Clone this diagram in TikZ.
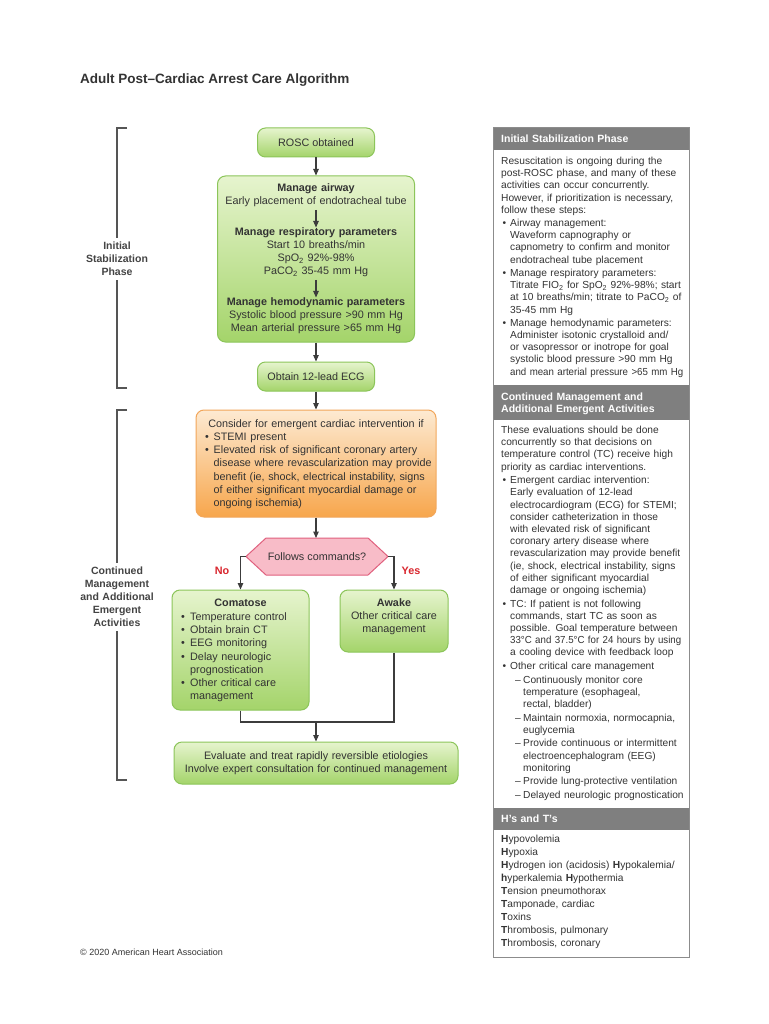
\documentclass[tikz,border=0pt]{standalone}
\usepackage{fontspec}
\setmainfont{Liberation Sans}
\usetikzlibrary{arrows.meta,calc}
\definecolor{txt}{HTML}{333333}
\definecolor{linec}{HTML}{3C3C3C}
\definecolor{gtop}{HTML}{E6F4CE}
\definecolor{gbot}{HTML}{A4D46A}
\definecolor{gborder}{HTML}{8CC55A}
\definecolor{otop}{HTML}{FDEAD2}
\definecolor{obot}{HTML}{F7A64C}
\definecolor{oborder}{HTML}{F2A65A}
\definecolor{hexfill}{HTML}{F8BCC8}
\definecolor{hexborder}{HTML}{E0607E}
\definecolor{redlab}{HTML}{D9262E}
\definecolor{hdrgray}{HTML}{7F7F7F}
\definecolor{panelborder}{HTML}{8C8C8C}
\definecolor{brack}{HTML}{555555}
\newcommand\pbul{\hspace*{1.5pt}\makebox[7.5pt][l]{•}}
\newcommand\pind{\hspace*{9pt}}
\newcommand\pdash{\hspace*{14pt}\makebox[8pt][l]{–}}
\newcommand\pdind{\hspace*{22pt}}
\newcommand\fbul{\makebox[8.5pt][l]{•}}
\newcommand\find{\hspace*{8.5pt}}
\newcommand\cbul{\makebox[9pt][l]{•}}
\newcommand\cind{\hspace*{9pt}}
\newcommand\narrowline[1]{{\addfontfeature{FakeStretch=0.95}#1}}
\begin{document}
\begin{tikzpicture}[x=1pt,y=-1pt,
  gbox/.style={draw=gborder, line width=1pt, rounded corners=8pt, top color=gtop, bottom color=gbot, inner sep=0pt},
  obox/.style={draw=oborder, line width=1pt, rounded corners=8pt, top color=otop, bottom color=obot, inner sep=0pt},
  ft/.style={font=\fontsize{10.8}{13}\selectfont, text=txt, inner sep=0pt},
  ftc/.style={ft, align=center, text width=#1, anchor=base},
  ftl/.style={ft, align=left, text width=#1, anchor=base west},
  arr/.style={draw=linec, line width=1.1pt, -{Triangle[length=6.5pt,width=5.5pt]}},
  conn/.style={draw=linec, line width=1.1pt},
  pt/.style={font=\fontsize{10.2}{12.2}\selectfont, text=txt, inner sep=0pt, align=left, text width=200pt, anchor=base west},
  hdr/.style={font=\fontsize{10.5}{12.5}\selectfont\bfseries, text=white, inner sep=0pt, align=left, text width=190pt, anchor=base west},
  brlab/.style={font=\fontsize{10.5}{13}\selectfont\bfseries, text=brack!80!black, inner sep=0pt, align=center, text width=90pt, anchor=base},
  brline/.style={draw=brack, line width=1.2pt},
  yn/.style={font=\fontsize{10.8}{13}\selectfont\bfseries, text=redlab, inner sep=0pt, anchor=base}
]
\useasboundingbox (0,0) rectangle (768,1024);
\fill[white] (0,0) rectangle (768,1024);

% title and footer
\node[font=\fontsize{13.5}{16}\selectfont\bfseries, text=txt, inner sep=0pt, anchor=base west] (title) at (80,84) {Adult Post–Cardiac Arrest Care Algorithm};
\node[font=\fontsize{9}{11}\selectfont, text=txt, inner sep=0pt, anchor=base west] (footer) at (80,955) {© 2020 American Heart Association};

% brackets
\node[brlab] (lab1) at (117,249.5) {Initial\\Stabilization\\Phase};
\coordinate (b1a) at (127,128);
\coordinate (b1b) at (117,128);
\coordinate (b1c) at (117,388);
\coordinate (b1d) at (127,388);
\draw[brline] (b1a) -- (b1b) -- ([yshift=4pt]lab1.north);
\draw[brline] (b1d) -- (b1c) -- ([yshift=-4pt]lab1.south);
\node[brlab] (lab2) at (117,574.5) {Continued\\Management\\and Additional\\Emergent\\Activities};
\coordinate (b2a) at (127,410);
\coordinate (b2b) at (117,410);
\coordinate (b2c) at (117,780);
\coordinate (b2d) at (127,780);
\draw[brline] (b2a) -- (b2b) -- ([yshift=4pt]lab2.north);
\draw[brline] (b2d) -- (b2c) -- ([yshift=-4pt]lab2.south);

% flowchart boxes
\node[gbox, minimum width=117pt, minimum height=29pt] (rosc) at (316,142.5) {};
\node[ft] (roscT) at (rosc.center) {ROSC obtained};
\node[gbox, minimum width=197pt, minimum height=166pt] (stab) at (316,259) {};
\node[ftc=190pt] (s1) at (316,191.5) {\textbf{Manage airway}\\Early placement of endotracheal tube};
\node[ftc=190pt] (s2) at (316,235.5) {\textbf{Manage respiratory parameters}\\Start 10 breaths/min\\SpO\textsubscript{2} 92\%-98\%\\PaCO\textsubscript{2} 35-45 mm Hg};
\node[ftc=190pt] (s3) at (316,305.5) {\textbf{Manage hemodynamic parameters}\\Systolic blood pressure >90 mm Hg\\Mean arterial pressure >65 mm Hg};
\node[gbox, minimum width=117pt, minimum height=29pt] (ecg) at (316,376.5) {};
\node[ft] (ecgT) at (ecg.center) {Obtain 12-lead ECG};

\node[obox, minimum width=240pt, minimum height=107pt] (cath) at (316,463.5) {};
\node[ftc=236pt] (c1) at (316,427.5) {Consider for emergent cardiac intervention if};
\node[ftl=230pt, font=\fontsize{10.8}{13.2}\selectfont] (c2) at (205,440.5) {\fbul STEMI present\\\fbul Elevated risk of significant coronary artery\\\find disease where revascularization may provide\\\find benefit (ie, shock, electrical instability, signs\\\find of either significant myocardial damage or\\\find ongoing ischemia)};

% hexagon decision
\coordinate (hexL) at (246,556.5);
\coordinate (hexR) at (388,556.5);
\coordinate (hexT) at (316,538);
\draw[draw=hexborder, line width=1pt, fill=hexfill] (hexL) -- (266,538) -- (368,538) -- (hexR) -- (368,575) -- (266,575) -- cycle;
\node[ft] (hexT2) at (317,556.5) {Follows commands?};

\node[gbox, minimum width=137pt, minimum height=120pt] (coma) at (240.5,650) {};
\node[ftc=130pt] (cm1) at (240.5,606.5) {\textbf{Comatose}};
\node[ftl=125pt, font=\fontsize{10.8}{13.2}\selectfont] (cm2) at (181,620.5) {\cbul Temperature control\\\cbul Obtain brain CT\\\cbul EEG monitoring\\\cbul Delay neurologic\\\cind prognostication\\\cbul Other critical care\\\cind management};

\node[gbox, minimum width=108pt, minimum height=62pt] (awake) at (394,621) {};
\node[ftc=104pt] (aw1) at (394,606.5) {\textbf{Awake}\\Other critical care\\management};

\node[gbox, minimum width=284pt, minimum height=42pt] (final) at (316,763) {};
\node[ftc=280pt] (fin1) at (316,759.5) {Evaluate and treat rapidly reversible etiologies\\Involve expert consultation for continued management};

% connectors
\draw[arr] (rosc.south) -- (stab.north);
\draw[arr, shorten <=3pt] (s1.south) -- (s2.north);
\draw[arr, shorten <=3pt] (s2.south) -- (s3.north);
\draw[arr] (stab.south) -- (ecg.north);
\draw[arr] (ecg.south) -- (cath.north);
\draw[arr] (cath.south) -- (hexT);
\draw[arr] (hexL) -| (coma.north);
\draw[arr] (hexR) -| (awake.north);
\node[yn] (no) at (222,574) {No};
\node[yn] (yes) at (411,574) {Yes};
\coordinate (join) at (316,722);
\draw[conn] (coma.south) |- (join);
\draw[conn] (awake.south) |- (join);
\draw[arr] (join) -- (final.north);

% right panel
\fill[hdrgray] (493,128) rectangle (689,150);
\fill[hdrgray] (493,385) rectangle (689,420);
\fill[hdrgray] (493,808) rectangle (689,830);
\draw[draw=panelborder, line width=1pt] (493,128) rectangle (689,957);
\node[hdr] (h1) at (501,142.8) {Initial Stabilization Phase};
\node[hdr] (h2) at (501,400) {Continued Management and\\Additional Emergent Activities};
\node[hdr] (h3) at (501,822.8) {H's and T's};

\node[pt] (p11) at (501,164.5) {Resuscitation is ongoing during the\\post-ROSC phase, and many of these\\activities can occur concurrently.\\However, if prioritization is necessary,\\follow these steps:};
\node[pt] (p12) at (501,226.6) {\pbul Airway management:\\\pind Waveform capnography or\\\pind capnometry to confirm and monitor\\\pind endotracheal tube placement};
\node[pt] (p13) at (501,276.4) {\pbul Manage respiratory parameters:\\\pind Titrate FIO\textsubscript{2} for SpO\textsubscript{2} 92\%-98\%; start\\\pind at 10 breaths/min; titrate to PaCO\textsubscript{2} of\\\pind 35-45 mm Hg};
\node[pt] (p14) at (501,326.2) {\pbul Manage hemodynamic parameters:\\\pind Administer isotonic crystalloid and/\\\pind or vasopressor or inotrope for goal\\\pind systolic blood pressure >90 mm Hg\\\pind \narrowline{and mean arterial pressure >65 mm Hg}};

\node[pt] (p21) at (501,433.5) {These evaluations should be done\\concurrently so that decisions on\\temperature control (TC) receive high\\priority as cardiac interventions.};
\node[pt] (p22) at (501,483.7) {\pbul Emergent cardiac intervention:\\\pind Early evaluation of 12-lead\\\pind electrocardiogram (ECG) for STEMI;\\\pind consider catheterization in those\\\pind with elevated risk of significant\\\pind coronary artery disease where\\\pind revascularization may provide benefit\\\pind (ie, shock, electrical instability, signs\\\pind of either significant myocardial\\\pind damage or ongoing ischemia)};
\node[pt] (p23) at (501,607.1) {\pbul TC: If patient is not following\\\pind commands, start TC as soon as\\\pind possible. Goal temperature between\\\pind \narrowline{33°C and 37.5°C for 24 hours by using}\\\pind a cooling device with feedback loop};
\node[pt] (p24) at (501,669.5) {\pbul Other critical care management};
\node[pt] (p25) at (501,683.1) {\pdash Continuously monitor core\\\pdind temperature (esophageal,\\\pdind rectal, bladder)};
\node[pt] (p26) at (501,721.1) {\pdash Maintain normoxia, normocapnia,\\\pdind euglycemia};
\node[pt] (p27) at (501,746.9) {\pdash Provide continuous or intermittent\\\pdind electroencephalogram (EEG)\\\pdind monitoring};
\node[pt] (p28) at (501,784.9) {\pdash Provide lung-protective ventilation};
\node[pt] (p29) at (501,798.5) {\pdash Delayed neurologic prognostication};

\node[pt, font=\fontsize{10.2}{13}\selectfont] (p31) at (501,842.5) {\textbf{H}ypovolemia\\\textbf{H}ypoxia\\\textbf{H}ydrogen ion (acidosis) \textbf{H}ypokalemia/\\\textbf{h}yperkalemia \textbf{H}ypothermia\\\textbf{T}ension pneumothorax\\\textbf{T}amponade, cardiac\\\textbf{T}oxins\\\textbf{T}hrombosis, pulmonary\\\textbf{T}hrombosis, coronary};
\end{tikzpicture}
\end{document}
